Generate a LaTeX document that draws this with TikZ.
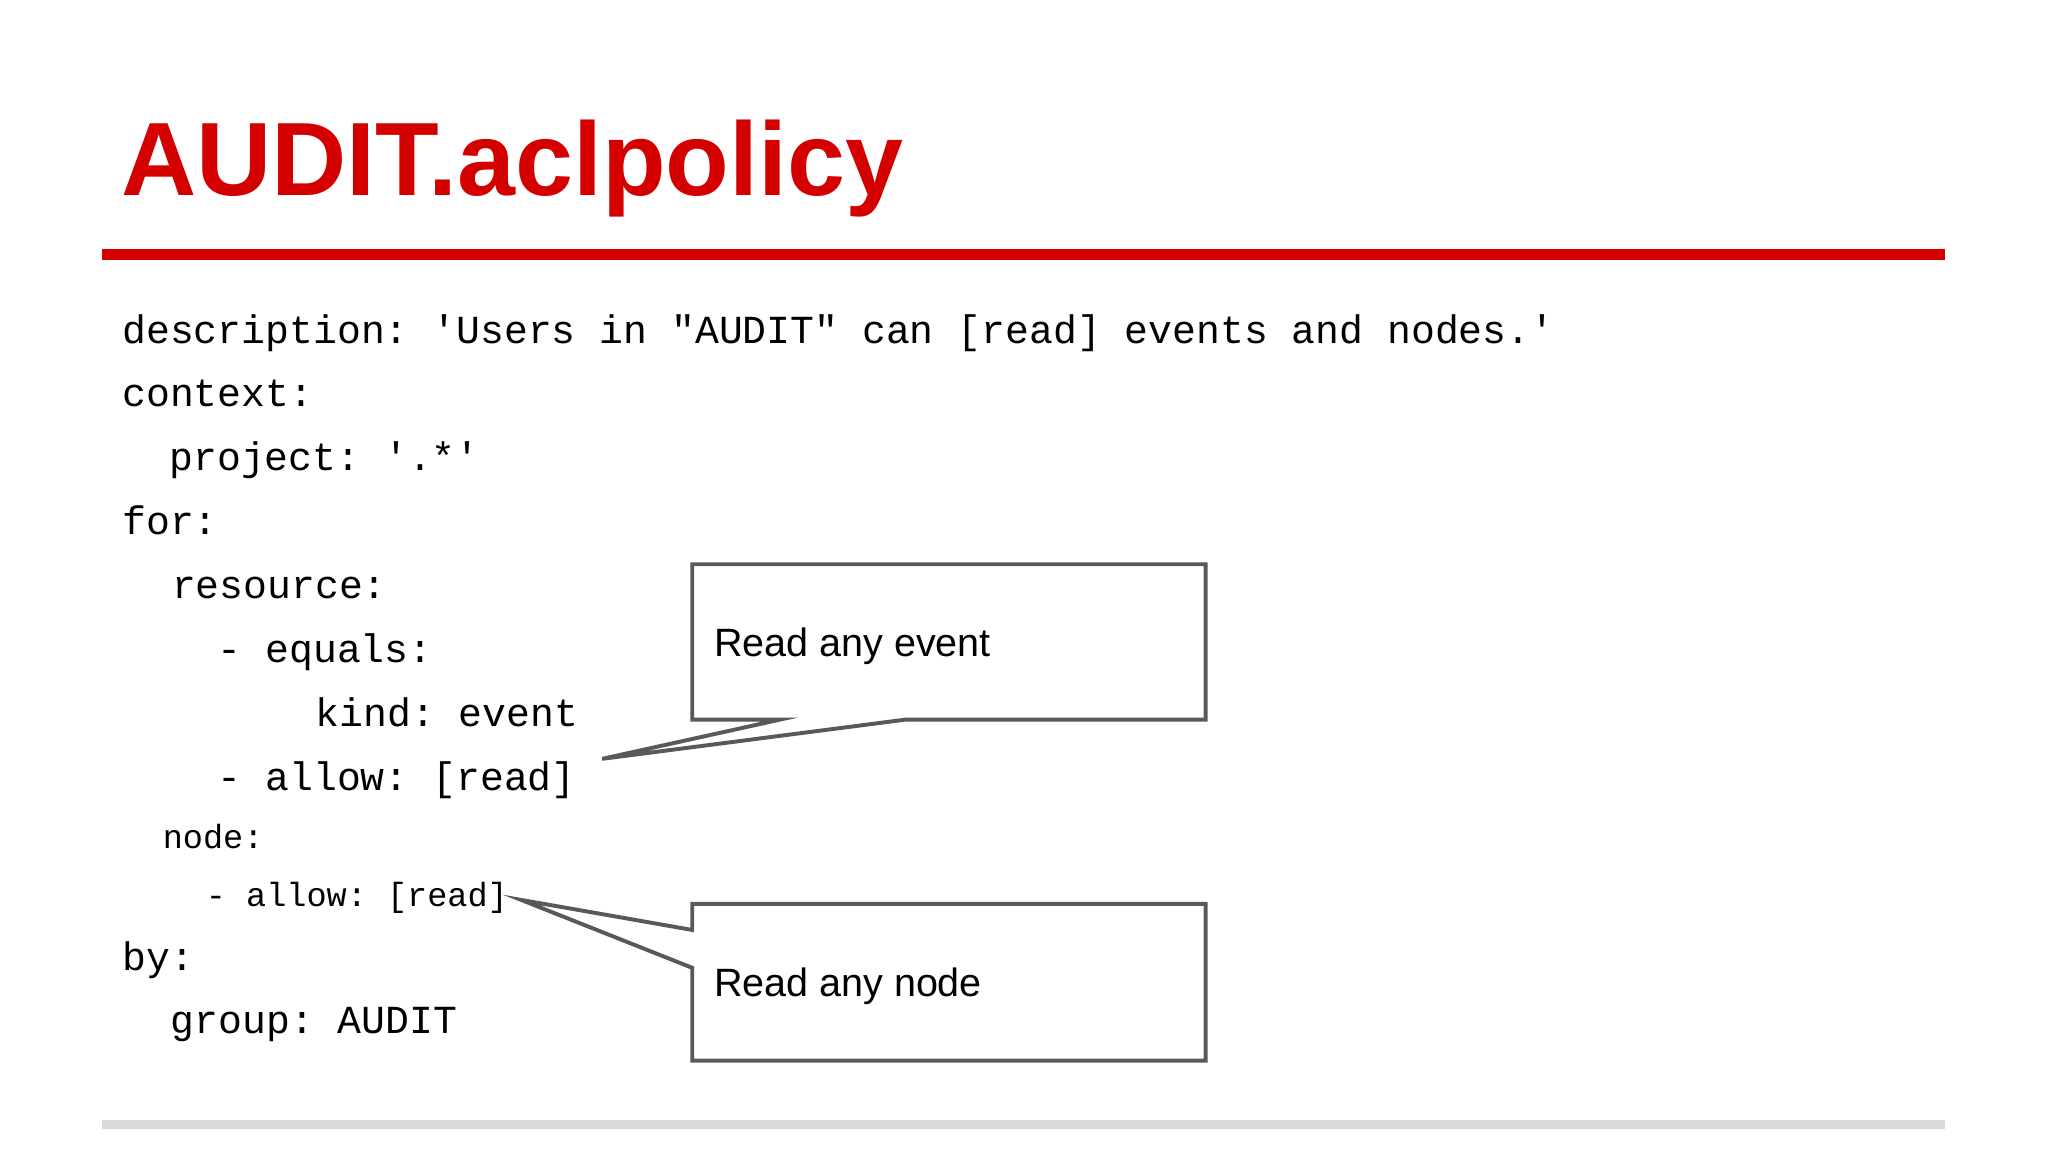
\documentclass[tikz,border=0pt]{standalone}
\usepackage{fontspec}
\setmainfont{Liberation Sans}
\setmonofont{Liberation Mono}
\definecolor{tred}{HTML}{D40000}
\definecolor{cgray}{HTML}{595959}
\definecolor{lgray}{HTML}{D9D9D9}
\begin{document}
\begin{tikzpicture}[x=0.01cm,y=-0.01cm,
  code/.style={anchor=base west,inner sep=0pt,font=\ttfamily\fontsize{8.66}{10}\selectfont},
  scode/.style={anchor=base west,inner sep=0pt,font=\ttfamily\fontsize{7.3}{9}\selectfont},
  callout/.style={draw=cgray,line width=0.03cm,fill=white,line join=miter},
  ctext/.style={anchor=base west,inner sep=0pt,font=\fontsize{8.6}{10}\selectfont}]
\useasboundingbox (0,0) rectangle (1568,882);
\node[anchor=base west,inner sep=0pt,text=tred,font=\bfseries\fontsize{22.7}{26}\selectfont] (title) at (92,150) {AUDIT.aclpolicy};
\draw[tred,line width=0.08cm] (78,195) -- (1489,195);
\draw[lgray,line width=0.07cm] (78,861) -- (1489,861);
\node[code] (l1) at (93,263) {description: 'Users in "AUDIT" can [read] events and nodes.'};
\node[code] (l2) at (93,311) {context:};
\node[code] (l3) at (129,360) {project: '.*'};
\node[code] (l4) at (93,409) {for:};
\node[code] (l5) at (131,458) {resource:};
\node[code] (l6) at (166,507) {- equals:};
\node[code] (l7) at (241,556) {kind: event};
\node[code] (l8) at (166,605) {- allow: [read]};
\node[scode] (l9) at (124,650) {node:};
\node[scode] (l10) at (157,694) {- allow: [read]};
\node[code] (l11) at (93,743) {by:};
\node[code] (l12) at (130,791) {group: AUDIT};
\draw[callout] (530,432) -- (923,432) -- (923,551) -- (693,551) -- (461,581) -- (597,551) -- (530,551) -- cycle;
\draw[callout] (530,692) -- (923,692) -- (923,812) -- (530,812) -- (530,741) -- (399,689) -- (530,712) -- cycle;
\node[ctext] (c1) at (546,503) {Read any event};
\node[ctext] (c2) at (546,763) {Read any node};
\end{tikzpicture}
\end{document}
